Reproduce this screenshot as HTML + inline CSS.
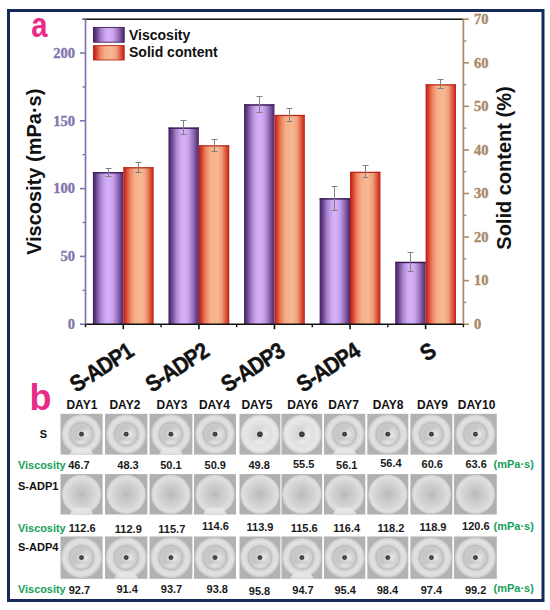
<!DOCTYPE html><html><head><meta charset="utf-8"><style>
html,body{margin:0;padding:0;background:#fff;width:550px;height:610px;overflow:hidden}
svg{position:absolute;left:0;top:0}
text{font-family:"Liberation Sans",sans-serif}
.sf{font-family:"Liberation Serif",serif;font-weight:bold}
</style></head><body>
<svg width="550" height="610" viewBox="0 0 550 610">
<defs>
<linearGradient id="gp" x1="0" x2="1" y1="0" y2="0"><stop offset="0" stop-color="#3f1d5c"/><stop offset="0.1" stop-color="#66408a"/><stop offset="0.25" stop-color="#a783cc"/><stop offset="0.4" stop-color="#cfa8f2"/><stop offset="0.52" stop-color="#d6b0fa"/><stop offset="0.65" stop-color="#c8a2ea"/><stop offset="0.8" stop-color="#9a74bc"/><stop offset="0.92" stop-color="#6a4488"/><stop offset="1" stop-color="#4a2468"/></linearGradient>
<linearGradient id="go" x1="0" x2="1" y1="0" y2="0"><stop offset="0" stop-color="#b51a16"/><stop offset="0.08" stop-color="#d23a28"/><stop offset="0.22" stop-color="#ec8260"/><stop offset="0.38" stop-color="#f4b08a"/><stop offset="0.6" stop-color="#f6b892"/><stop offset="0.75" stop-color="#f0a07c"/><stop offset="0.88" stop-color="#de5a3e"/><stop offset="1" stop-color="#bf1e1a"/></linearGradient>
<radialGradient id="gpd"><stop offset="0" stop-color="#cdcdcd"/><stop offset="0.15" stop-color="#d2d2d2"/><stop offset="0.3" stop-color="#c5c5c5"/><stop offset="0.5" stop-color="#cacaca"/><stop offset="0.58" stop-color="#bfbfbf"/><stop offset="0.66" stop-color="#d9d9d9"/><stop offset="0.8" stop-color="#e2e2e2"/><stop offset="0.9" stop-color="#dadada"/><stop offset="1" stop-color="#bebebe"/></radialGradient>
<radialGradient id="gph"><stop offset="0" stop-color="#bababa"/><stop offset="0.3" stop-color="#c8c8c8"/><stop offset="0.6" stop-color="#d5d3d1"/><stop offset="0.85" stop-color="#e1dfdd"/><stop offset="0.95" stop-color="#d4d4d4"/><stop offset="1" stop-color="#bababa"/></radialGradient>
<radialGradient id="gpb"><stop offset="0" stop-color="#dedede"/><stop offset="0.12" stop-color="#d5d5d5"/><stop offset="0.3" stop-color="#d8d8d8"/><stop offset="0.6" stop-color="#e2e2e2"/><stop offset="0.8" stop-color="#e8e8e8"/><stop offset="0.92" stop-color="#dadada"/><stop offset="1" stop-color="#b6b6b6"/></radialGradient>
<radialGradient id="ghl" cx="0.5" cy="0.5" r="0.5"><stop offset="0" stop-color="#fff" stop-opacity="0.55"/><stop offset="1" stop-color="#fff" stop-opacity="0"/></radialGradient>
</defs>
<rect x="8.5" y="10.5" width="534.5" height="590" fill="none" stroke="#17285a" stroke-width="3"/>
<text transform="translate(31.3,36.5) scale(0.86,1.04)" font-size="34" font-weight="bold" fill="#ea2a88">a</text>
<text x="29.5" y="409.5" font-size="36" font-weight="bold" fill="#ea2a88">b</text>
<rect x="92.89" y="172.1" width="30.4" height="152.10" fill="url(#gp)"/>
<rect x="123.29" y="167.2" width="30.4" height="157.00" fill="url(#go)"/>
<rect x="92.89" y="172.1" width="30.4" height="1.4" fill="#3a1c55"/>
<rect x="123.29" y="167.2" width="30.4" height="1.2" fill="#b8281c"/>
<rect x="168.47" y="127.5" width="30.4" height="196.70" fill="url(#gp)"/>
<rect x="198.87" y="145.3" width="30.4" height="178.90" fill="url(#go)"/>
<rect x="168.47" y="127.5" width="30.4" height="1.4" fill="#3a1c55"/>
<rect x="198.87" y="145.3" width="30.4" height="1.2" fill="#b8281c"/>
<rect x="244.05" y="104.3" width="30.4" height="219.90" fill="url(#gp)"/>
<rect x="274.45" y="114.9" width="30.4" height="209.30" fill="url(#go)"/>
<rect x="244.05" y="104.3" width="30.4" height="1.4" fill="#3a1c55"/>
<rect x="274.45" y="114.9" width="30.4" height="1.2" fill="#b8281c"/>
<rect x="319.63" y="198.2" width="30.4" height="126.00" fill="url(#gp)"/>
<rect x="350.03" y="171.8" width="30.4" height="152.40" fill="url(#go)"/>
<rect x="319.63" y="198.2" width="30.4" height="1.4" fill="#3a1c55"/>
<rect x="350.03" y="171.8" width="30.4" height="1.2" fill="#b8281c"/>
<rect x="395.21" y="261.8" width="30.4" height="62.40" fill="url(#gp)"/>
<rect x="425.61" y="84.3" width="30.4" height="239.90" fill="url(#go)"/>
<rect x="395.21" y="261.8" width="30.4" height="1.4" fill="#3a1c55"/>
<rect x="425.61" y="84.3" width="30.4" height="1.2" fill="#b8281c"/>
<path d="M108.50 168.5V176.5M105.50 168.5H111.50M105.50 176.5H111.50" stroke="#808080" stroke-width="1" fill="none"/>
<path d="M138.50 162.5V172.5M135.50 162.5H141.50M135.50 172.5H141.50" stroke="#808080" stroke-width="1" fill="none"/>
<path d="M183.50 120.5V134.5M180.50 120.5H186.50M180.50 134.5H186.50" stroke="#808080" stroke-width="1" fill="none"/>
<path d="M214.50 139.5V151.5M211.50 139.5H217.50M211.50 151.5H217.50" stroke="#808080" stroke-width="1" fill="none"/>
<path d="M259.50 96.5V112.5M256.50 96.5H262.50M256.50 112.5H262.50" stroke="#808080" stroke-width="1" fill="none"/>
<path d="M289.50 108.5V121.5M286.50 108.5H292.50M286.50 121.5H292.50" stroke="#808080" stroke-width="1" fill="none"/>
<path d="M334.50 186.5V210.5M331.50 186.5H337.50M331.50 210.5H337.50" stroke="#808080" stroke-width="1" fill="none"/>
<path d="M365.50 165.5V177.5M362.50 165.5H368.50M362.50 177.5H368.50" stroke="#808080" stroke-width="1" fill="none"/>
<path d="M410.50 252.5V271.5M407.50 252.5H413.50M407.50 271.5H413.50" stroke="#808080" stroke-width="1" fill="none"/>
<path d="M440.50 79.5V88.5M437.50 79.5H443.50M437.50 88.5H443.50" stroke="#808080" stroke-width="1" fill="none"/>
<path d="M82.5 19.2H463.4" stroke="#111" stroke-width="1.6"/>
<path d="M85.0 324.2H463.9" stroke="#111" stroke-width="1.6"/>
<path d="M85.5 19.2V324.2" stroke="#8275ad" stroke-width="1.7"/>
<path d="M463.4 19.2V324.2" stroke="#a8896a" stroke-width="1.7"/>
<path d="M80.0 324.20H85.5" stroke="#8275ad" stroke-width="1.6"/>
<text class="sf" transform="translate(75,329.00) scale(1,1.04)" font-size="14.5" fill="#8275ad" stroke="#8275ad" stroke-width="0.35" text-anchor="end">0</text>
<path d="M82.5 290.30H85.5" stroke="#8275ad" stroke-width="1.4"/>
<path d="M80.0 256.40H85.5" stroke="#8275ad" stroke-width="1.6"/>
<text class="sf" transform="translate(75,261.20) scale(1,1.04)" font-size="14.5" fill="#8275ad" stroke="#8275ad" stroke-width="0.35" text-anchor="end">50</text>
<path d="M82.5 222.50H85.5" stroke="#8275ad" stroke-width="1.4"/>
<path d="M80.0 188.60H85.5" stroke="#8275ad" stroke-width="1.6"/>
<text class="sf" transform="translate(75,193.40) scale(1,1.04)" font-size="14.5" fill="#8275ad" stroke="#8275ad" stroke-width="0.35" text-anchor="end">100</text>
<path d="M82.5 154.70H85.5" stroke="#8275ad" stroke-width="1.4"/>
<path d="M80.0 120.80H85.5" stroke="#8275ad" stroke-width="1.6"/>
<text class="sf" transform="translate(75,125.60) scale(1,1.04)" font-size="14.5" fill="#8275ad" stroke="#8275ad" stroke-width="0.35" text-anchor="end">150</text>
<path d="M82.5 86.90H85.5" stroke="#8275ad" stroke-width="1.4"/>
<path d="M80.0 53.00H85.5" stroke="#8275ad" stroke-width="1.6"/>
<text class="sf" transform="translate(75,57.80) scale(1,1.04)" font-size="14.5" fill="#8275ad" stroke="#8275ad" stroke-width="0.35" text-anchor="end">200</text>
<path d="M82.5 19.10H85.5" stroke="#8275ad" stroke-width="1.4"/>
<path d="M463.4 324.20H468.9" stroke="#a8896a" stroke-width="1.6"/>
<text class="sf" transform="translate(474,329.00) scale(1,1.04)" font-size="14.5" fill="#a8896a" stroke="#a8896a" stroke-width="0.35">0</text>
<path d="M463.4 302.41H466.4" stroke="#a8896a" stroke-width="1.4"/>
<path d="M463.4 280.63H468.9" stroke="#a8896a" stroke-width="1.6"/>
<text class="sf" transform="translate(474,285.43) scale(1,1.04)" font-size="14.5" fill="#a8896a" stroke="#a8896a" stroke-width="0.35">10</text>
<path d="M463.4 258.84H466.4" stroke="#a8896a" stroke-width="1.4"/>
<path d="M463.4 237.06H468.9" stroke="#a8896a" stroke-width="1.6"/>
<text class="sf" transform="translate(474,241.86) scale(1,1.04)" font-size="14.5" fill="#a8896a" stroke="#a8896a" stroke-width="0.35">20</text>
<path d="M463.4 215.27H466.4" stroke="#a8896a" stroke-width="1.4"/>
<path d="M463.4 193.49H468.9" stroke="#a8896a" stroke-width="1.6"/>
<text class="sf" transform="translate(474,198.29) scale(1,1.04)" font-size="14.5" fill="#a8896a" stroke="#a8896a" stroke-width="0.35">30</text>
<path d="M463.4 171.70H466.4" stroke="#a8896a" stroke-width="1.4"/>
<path d="M463.4 149.91H468.9" stroke="#a8896a" stroke-width="1.6"/>
<text class="sf" transform="translate(474,154.71) scale(1,1.04)" font-size="14.5" fill="#a8896a" stroke="#a8896a" stroke-width="0.35">40</text>
<path d="M463.4 128.13H466.4" stroke="#a8896a" stroke-width="1.4"/>
<path d="M463.4 106.34H468.9" stroke="#a8896a" stroke-width="1.6"/>
<text class="sf" transform="translate(474,111.14) scale(1,1.04)" font-size="14.5" fill="#a8896a" stroke="#a8896a" stroke-width="0.35">50</text>
<path d="M463.4 84.56H466.4" stroke="#a8896a" stroke-width="1.4"/>
<path d="M463.4 62.77H468.9" stroke="#a8896a" stroke-width="1.6"/>
<text class="sf" transform="translate(474,67.57) scale(1,1.04)" font-size="14.5" fill="#a8896a" stroke="#a8896a" stroke-width="0.35">60</text>
<path d="M463.4 40.99H466.4" stroke="#a8896a" stroke-width="1.4"/>
<path d="M463.4 19.20H468.9" stroke="#a8896a" stroke-width="1.6"/>
<text class="sf" transform="translate(474,24.00) scale(1,1.04)" font-size="14.5" fill="#a8896a" stroke="#a8896a" stroke-width="0.35">70</text>
<path d="M85.50 324.2V327.2" stroke="#111" stroke-width="1.4"/>
<path d="M161.08 324.2V327.2" stroke="#111" stroke-width="1.4"/>
<path d="M236.66 324.2V327.2" stroke="#111" stroke-width="1.4"/>
<path d="M312.24 324.2V327.2" stroke="#111" stroke-width="1.4"/>
<path d="M387.82 324.2V327.2" stroke="#111" stroke-width="1.4"/>
<path d="M463.40 324.2V327.2" stroke="#111" stroke-width="1.4"/>
<path d="M123.29 324.2V329.2" stroke="#111" stroke-width="1.6"/>
<path d="M198.87 324.2V329.2" stroke="#111" stroke-width="1.6"/>
<path d="M274.45 324.2V329.2" stroke="#111" stroke-width="1.6"/>
<path d="M350.03 324.2V329.2" stroke="#111" stroke-width="1.6"/>
<path d="M425.61 324.2V329.2" stroke="#111" stroke-width="1.6"/>
<rect x="93.4" y="27.4" width="30.8" height="14.8" fill="url(#gp)" stroke="#3c1d58" stroke-width="0.9"/>
<rect x="93.4" y="45.6" width="30.8" height="14.4" fill="url(#go)" stroke="#b8281c" stroke-width="0.9"/>
<text x="129" y="39.6" font-size="14" font-weight="bold" fill="#111">Viscosity</text>
<text x="129" y="57.4" font-size="14" font-weight="bold" fill="#111">Solid content</text>
<text transform="translate(41,255) rotate(-90)" font-size="20" font-weight="bold" fill="#111">Viscosity (mPa·s)</text>
<text transform="translate(510.5,249.7) rotate(-90)" font-size="20" font-weight="bold" fill="#111">Solid content (%)</text>
<text transform="translate(134.79,355) rotate(-33) scale(1,1.12)" font-size="20.5" letter-spacing="-0.9" font-weight="bold" fill="#111" stroke="#111" stroke-width="0.4" text-anchor="end">S-ADP1</text>
<text transform="translate(210.37,355) rotate(-33) scale(1,1.12)" font-size="20.5" letter-spacing="-0.9" font-weight="bold" fill="#111" stroke="#111" stroke-width="0.4" text-anchor="end">S-ADP2</text>
<text transform="translate(285.95,355) rotate(-33) scale(1,1.12)" font-size="20.5" letter-spacing="-0.9" font-weight="bold" fill="#111" stroke="#111" stroke-width="0.4" text-anchor="end">S-ADP3</text>
<text transform="translate(361.53,355) rotate(-33) scale(1,1.12)" font-size="20.5" letter-spacing="-0.9" font-weight="bold" fill="#111" stroke="#111" stroke-width="0.4" text-anchor="end">S-ADP4</text>
<text transform="translate(437.11,355) rotate(-33) scale(1,1.12)" font-size="20.5" letter-spacing="-0.9" font-weight="bold" fill="#111" stroke="#111" stroke-width="0.4" text-anchor="end">S</text>
<text x="81.9" y="408.6" font-size="12" font-weight="bold" fill="#111" text-anchor="middle">DAY1</text>
<text x="124.9" y="408.6" font-size="12" font-weight="bold" fill="#111" text-anchor="middle">DAY2</text>
<text x="172.0" y="408.6" font-size="12" font-weight="bold" fill="#111" text-anchor="middle">DAY3</text>
<text x="214.4" y="408.6" font-size="12" font-weight="bold" fill="#111" text-anchor="middle">DAY4</text>
<text x="256.9" y="408.6" font-size="12" font-weight="bold" fill="#111" text-anchor="middle">DAY5</text>
<text x="302.6" y="408.6" font-size="12" font-weight="bold" fill="#111" text-anchor="middle">DAY6</text>
<text x="343.6" y="408.6" font-size="12" font-weight="bold" fill="#111" text-anchor="middle">DAY7</text>
<text x="388.1" y="408.6" font-size="12" font-weight="bold" fill="#111" text-anchor="middle">DAY8</text>
<text x="432.4" y="408.6" font-size="12" font-weight="bold" fill="#111" text-anchor="middle">DAY9</text>
<text x="476.6" y="408.6" font-size="12" font-weight="bold" fill="#111" text-anchor="middle">DAY10</text>
<rect x="60.5" y="413.8" width="42.1" height="40.8" fill="#b2b2b2"/>
<circle cx="81.5" cy="434.2" r="20.1" fill="url(#gpd)"/>
<ellipse cx="86.5" cy="434.2" rx="6" ry="9" fill="url(#ghl)"/>
<ellipse cx="81.5" cy="442.2" rx="8" ry="3.5" fill="url(#ghl)"/>
<circle cx="81.5" cy="434.2" r="2.4" fill="#3a3a3a"/>
<circle cx="81.5" cy="434.2" r="0.9" fill="#5a5a5a"/>
<rect x="105.0" y="413.8" width="42.4" height="40.8" fill="#b2b2b2"/>
<circle cx="126.2" cy="434.2" r="20.1" fill="url(#gpd)"/>
<ellipse cx="131.2" cy="434.2" rx="6" ry="9" fill="url(#ghl)"/>
<ellipse cx="126.2" cy="442.2" rx="8" ry="3.5" fill="url(#ghl)"/>
<circle cx="126.2" cy="434.2" r="2.4" fill="#3a3a3a"/>
<circle cx="126.2" cy="434.2" r="0.9" fill="#5a5a5a"/>
<rect x="149.5" y="413.8" width="42.9" height="40.8" fill="#b2b2b2"/>
<circle cx="170.9" cy="434.2" r="20.1" fill="url(#gpd)"/>
<ellipse cx="175.9" cy="434.2" rx="6" ry="9" fill="url(#ghl)"/>
<ellipse cx="170.9" cy="442.2" rx="8" ry="3.5" fill="url(#ghl)"/>
<circle cx="170.9" cy="434.2" r="2.4" fill="#3a3a3a"/>
<circle cx="170.9" cy="434.2" r="0.9" fill="#5a5a5a"/>
<rect x="194.0" y="413.8" width="42.0" height="40.8" fill="#b2b2b2"/>
<circle cx="215.0" cy="434.2" r="20.1" fill="url(#gpd)"/>
<ellipse cx="220.0" cy="434.2" rx="6" ry="9" fill="url(#ghl)"/>
<ellipse cx="215.0" cy="442.2" rx="8" ry="3.5" fill="url(#ghl)"/>
<circle cx="215.0" cy="434.2" r="2.4" fill="#3a3a3a"/>
<circle cx="215.0" cy="434.2" r="0.9" fill="#5a5a5a"/>
<rect x="239.5" y="413.8" width="40.9" height="40.8" fill="#b2b2b2"/>
<circle cx="259.9" cy="434.2" r="20.1" fill="url(#gpb)"/>
<ellipse cx="264.9" cy="434.2" rx="6" ry="9" fill="url(#ghl)"/>
<ellipse cx="259.9" cy="442.2" rx="8" ry="3.5" fill="url(#ghl)"/>
<circle cx="259.9" cy="434.2" r="2.8" fill="#3a3a3a"/>
<circle cx="259.9" cy="434.2" r="0.9" fill="#5a5a5a"/>
<rect x="281.5" y="413.8" width="40.7" height="40.8" fill="#b2b2b2"/>
<circle cx="301.9" cy="434.2" r="20.0" fill="url(#gpb)"/>
<ellipse cx="306.9" cy="434.2" rx="6" ry="9" fill="url(#ghl)"/>
<ellipse cx="301.9" cy="442.2" rx="8" ry="3.5" fill="url(#ghl)"/>
<circle cx="301.9" cy="434.2" r="2.8" fill="#3a3a3a"/>
<circle cx="301.9" cy="434.2" r="0.9" fill="#5a5a5a"/>
<rect x="324.0" y="413.8" width="41.3" height="40.8" fill="#b2b2b2"/>
<circle cx="344.6" cy="434.2" r="20.1" fill="url(#gpd)"/>
<ellipse cx="349.6" cy="434.2" rx="6" ry="9" fill="url(#ghl)"/>
<ellipse cx="344.6" cy="442.2" rx="8" ry="3.5" fill="url(#ghl)"/>
<circle cx="344.6" cy="434.2" r="2.4" fill="#3a3a3a"/>
<circle cx="344.6" cy="434.2" r="0.9" fill="#5a5a5a"/>
<rect x="367.3" y="413.8" width="41.0" height="40.8" fill="#b2b2b2"/>
<circle cx="387.8" cy="434.2" r="20.1" fill="url(#gpd)"/>
<ellipse cx="392.8" cy="434.2" rx="6" ry="9" fill="url(#ghl)"/>
<ellipse cx="387.8" cy="442.2" rx="8" ry="3.5" fill="url(#ghl)"/>
<circle cx="387.8" cy="434.2" r="2.4" fill="#3a3a3a"/>
<circle cx="387.8" cy="434.2" r="0.9" fill="#5a5a5a"/>
<rect x="410.4" y="413.8" width="42.0" height="40.8" fill="#b2b2b2"/>
<circle cx="431.4" cy="434.2" r="20.1" fill="url(#gpd)"/>
<ellipse cx="436.4" cy="434.2" rx="6" ry="9" fill="url(#ghl)"/>
<ellipse cx="431.4" cy="442.2" rx="8" ry="3.5" fill="url(#ghl)"/>
<circle cx="431.4" cy="434.2" r="2.4" fill="#3a3a3a"/>
<circle cx="431.4" cy="434.2" r="0.9" fill="#5a5a5a"/>
<rect x="454.0" y="413.8" width="42.8" height="40.8" fill="#b2b2b2"/>
<circle cx="475.4" cy="434.2" r="20.1" fill="url(#gpd)"/>
<ellipse cx="480.4" cy="434.2" rx="6" ry="9" fill="url(#ghl)"/>
<ellipse cx="475.4" cy="442.2" rx="8" ry="3.5" fill="url(#ghl)"/>
<circle cx="475.4" cy="434.2" r="2.4" fill="#3a3a3a"/>
<circle cx="475.4" cy="434.2" r="0.9" fill="#5a5a5a"/>
<rect x="60.5" y="474.1" width="42.1" height="40.4" fill="#b0b0b0"/>
<circle cx="81.5" cy="494.3" r="19.9" fill="url(#gph)"/>
<rect x="105.0" y="474.1" width="42.4" height="40.4" fill="#b0b0b0"/>
<circle cx="126.2" cy="494.3" r="19.9" fill="url(#gph)"/>
<rect x="149.5" y="474.1" width="42.9" height="40.4" fill="#b0b0b0"/>
<circle cx="170.9" cy="494.3" r="19.9" fill="url(#gph)"/>
<rect x="194.0" y="474.1" width="42.0" height="40.4" fill="#b0b0b0"/>
<circle cx="215.0" cy="494.3" r="19.9" fill="url(#gph)"/>
<rect x="239.5" y="474.1" width="40.9" height="40.4" fill="#b0b0b0"/>
<circle cx="259.9" cy="494.3" r="19.9" fill="url(#gph)"/>
<rect x="281.5" y="474.1" width="40.7" height="40.4" fill="#b0b0b0"/>
<circle cx="301.9" cy="494.3" r="19.9" fill="url(#gph)"/>
<rect x="324.0" y="474.1" width="41.3" height="40.4" fill="#b0b0b0"/>
<circle cx="344.6" cy="494.3" r="19.9" fill="url(#gph)"/>
<rect x="367.3" y="474.1" width="41.0" height="40.4" fill="#b0b0b0"/>
<circle cx="387.8" cy="494.3" r="19.9" fill="url(#gph)"/>
<rect x="410.4" y="474.1" width="42.0" height="40.4" fill="#b0b0b0"/>
<circle cx="431.4" cy="494.3" r="19.9" fill="url(#gph)"/>
<rect x="454.0" y="474.1" width="42.8" height="40.4" fill="#b0b0b0"/>
<circle cx="475.4" cy="494.3" r="19.9" fill="url(#gph)"/>
<rect x="60.5" y="536.5" width="42.1" height="42.3" fill="#b2b2b2"/>
<circle cx="81.5" cy="557.6" r="20.7" fill="url(#gpd)"/>
<ellipse cx="86.5" cy="557.6" rx="6" ry="9" fill="url(#ghl)"/>
<ellipse cx="81.5" cy="565.6" rx="8" ry="3.5" fill="url(#ghl)"/>
<circle cx="81.5" cy="557.6" r="2.4" fill="#3a3a3a"/>
<circle cx="81.5" cy="557.6" r="0.9" fill="#5a5a5a"/>
<rect x="105.0" y="536.5" width="42.4" height="42.3" fill="#b2b2b2"/>
<circle cx="126.2" cy="557.6" r="20.8" fill="url(#gpd)"/>
<ellipse cx="131.2" cy="557.6" rx="6" ry="9" fill="url(#ghl)"/>
<ellipse cx="126.2" cy="565.6" rx="8" ry="3.5" fill="url(#ghl)"/>
<circle cx="126.2" cy="557.6" r="2.4" fill="#3a3a3a"/>
<circle cx="126.2" cy="557.6" r="0.9" fill="#5a5a5a"/>
<rect x="149.5" y="536.5" width="42.9" height="42.3" fill="#b2b2b2"/>
<circle cx="170.9" cy="557.6" r="20.8" fill="url(#gpd)"/>
<ellipse cx="175.9" cy="557.6" rx="6" ry="9" fill="url(#ghl)"/>
<ellipse cx="170.9" cy="565.6" rx="8" ry="3.5" fill="url(#ghl)"/>
<circle cx="170.9" cy="557.6" r="2.4" fill="#3a3a3a"/>
<circle cx="170.9" cy="557.6" r="0.9" fill="#5a5a5a"/>
<rect x="194.0" y="536.5" width="42.0" height="42.3" fill="#b2b2b2"/>
<circle cx="215.0" cy="557.6" r="20.7" fill="url(#gpd)"/>
<ellipse cx="220.0" cy="557.6" rx="6" ry="9" fill="url(#ghl)"/>
<ellipse cx="215.0" cy="565.6" rx="8" ry="3.5" fill="url(#ghl)"/>
<circle cx="215.0" cy="557.6" r="2.4" fill="#3a3a3a"/>
<circle cx="215.0" cy="557.6" r="0.9" fill="#5a5a5a"/>
<rect x="239.5" y="536.5" width="40.9" height="42.3" fill="#b2b2b2"/>
<circle cx="259.9" cy="557.6" r="20.1" fill="url(#gpd)"/>
<ellipse cx="264.9" cy="557.6" rx="6" ry="9" fill="url(#ghl)"/>
<ellipse cx="259.9" cy="565.6" rx="8" ry="3.5" fill="url(#ghl)"/>
<circle cx="259.9" cy="557.6" r="2.4" fill="#3a3a3a"/>
<circle cx="259.9" cy="557.6" r="0.9" fill="#5a5a5a"/>
<rect x="281.5" y="536.5" width="40.7" height="42.3" fill="#b2b2b2"/>
<circle cx="301.9" cy="557.6" r="20.0" fill="url(#gpd)"/>
<ellipse cx="306.9" cy="557.6" rx="6" ry="9" fill="url(#ghl)"/>
<ellipse cx="301.9" cy="565.6" rx="8" ry="3.5" fill="url(#ghl)"/>
<circle cx="301.9" cy="557.6" r="2.4" fill="#3a3a3a"/>
<circle cx="301.9" cy="557.6" r="0.9" fill="#5a5a5a"/>
<rect x="324.0" y="536.5" width="41.3" height="42.3" fill="#b2b2b2"/>
<circle cx="344.6" cy="557.6" r="20.4" fill="url(#gpd)"/>
<ellipse cx="349.6" cy="557.6" rx="6" ry="9" fill="url(#ghl)"/>
<ellipse cx="344.6" cy="565.6" rx="8" ry="3.5" fill="url(#ghl)"/>
<circle cx="344.6" cy="557.6" r="2.4" fill="#3a3a3a"/>
<circle cx="344.6" cy="557.6" r="0.9" fill="#5a5a5a"/>
<rect x="367.3" y="536.5" width="41.0" height="42.3" fill="#b2b2b2"/>
<circle cx="387.8" cy="557.6" r="20.2" fill="url(#gpd)"/>
<ellipse cx="392.8" cy="557.6" rx="6" ry="9" fill="url(#ghl)"/>
<ellipse cx="387.8" cy="565.6" rx="8" ry="3.5" fill="url(#ghl)"/>
<circle cx="387.8" cy="557.6" r="2.4" fill="#3a3a3a"/>
<circle cx="387.8" cy="557.6" r="0.9" fill="#5a5a5a"/>
<rect x="410.4" y="536.5" width="42.0" height="42.3" fill="#b2b2b2"/>
<circle cx="431.4" cy="557.6" r="20.7" fill="url(#gpd)"/>
<ellipse cx="436.4" cy="557.6" rx="6" ry="9" fill="url(#ghl)"/>
<ellipse cx="431.4" cy="565.6" rx="8" ry="3.5" fill="url(#ghl)"/>
<circle cx="431.4" cy="557.6" r="2.4" fill="#3a3a3a"/>
<circle cx="431.4" cy="557.6" r="0.9" fill="#5a5a5a"/>
<rect x="454.0" y="536.5" width="42.8" height="42.3" fill="#b2b2b2"/>
<circle cx="475.4" cy="557.6" r="20.8" fill="url(#gpd)"/>
<ellipse cx="480.4" cy="557.6" rx="6" ry="9" fill="url(#ghl)"/>
<ellipse cx="475.4" cy="565.6" rx="8" ry="3.5" fill="url(#ghl)"/>
<circle cx="475.4" cy="557.6" r="2.4" fill="#3a3a3a"/>
<circle cx="475.4" cy="557.6" r="0.9" fill="#5a5a5a"/>
<path d="M73.5 448.1L89.5 448.1L93.5 454.6L69.5 454.6Z" fill="#e6e6e6" opacity="0.85"/>
<path d="M162.9 448.1L178.9 448.1L182.9 454.6L158.9 454.6Z" fill="#e6e6e6" opacity="0.85"/>
<path d="M336.6 448.1L352.6 448.1L356.6 454.6L332.6 454.6Z" fill="#e6e6e6" opacity="0.85"/>
<path d="M73.5 508.0L89.5 508.0L93.5 514.5L69.5 514.5Z" fill="#e6e6e6" opacity="0.85"/>
<path d="M207.0 508.0L223.0 508.0L227.0 514.5L203.0 514.5Z" fill="#e6e6e6" opacity="0.85"/>
<path d="M336.6 508.0L352.6 508.0L356.6 514.5L332.6 514.5Z" fill="#e6e6e6" opacity="0.85"/>
<path d="M118.2 572.3L134.2 572.3L138.2 578.8L114.2 578.8Z" fill="#e6e6e6" opacity="0.85"/>
<path d="M293.9 572.3L309.9 572.3L313.9 578.8L289.9 578.8Z" fill="#e6e6e6" opacity="0.85"/>
<text x="39.8" y="438.2" font-size="11" font-weight="bold" fill="#111">S</text>
<text x="18" y="490.4" font-size="11" font-weight="bold" fill="#111">S-ADP1</text>
<text x="18" y="551.3" font-size="11" font-weight="bold" fill="#111">S-ADP4</text>
<text x="18" y="468.5" font-size="10.9" font-weight="bold" fill="#17a05a">Viscosity</text>
<text x="78.9" y="468.5" font-size="11" font-weight="bold" fill="#1a1a1a" text-anchor="middle">46.7</text>
<text x="128" y="468.5" font-size="11" font-weight="bold" fill="#1a1a1a" text-anchor="middle">48.3</text>
<text x="170.9" y="468.5" font-size="11" font-weight="bold" fill="#1a1a1a" text-anchor="middle">50.1</text>
<text x="215.3" y="468.5" font-size="11" font-weight="bold" fill="#1a1a1a" text-anchor="middle">50.9</text>
<text x="259.2" y="468.5" font-size="11" font-weight="bold" fill="#1a1a1a" text-anchor="middle">49.8</text>
<text x="303.7" y="467.8" font-size="11" font-weight="bold" fill="#1a1a1a" text-anchor="middle">55.5</text>
<text x="346.8" y="468.9" font-size="11" font-weight="bold" fill="#1a1a1a" text-anchor="middle">56.1</text>
<text x="390.9" y="467.2" font-size="11" font-weight="bold" fill="#1a1a1a" text-anchor="middle">56.4</text>
<text x="432.3" y="467.5" font-size="11" font-weight="bold" fill="#1a1a1a" text-anchor="middle">60.6</text>
<text x="476.1" y="467.8" font-size="11" font-weight="bold" fill="#1a1a1a" text-anchor="middle">63.6</text>
<text x="493.5" y="467.8" font-size="11" font-weight="bold" fill="#17a05a">(mPa·s)</text>
<text x="18" y="531.5" font-size="10.9" font-weight="bold" fill="#17a05a">Viscosity</text>
<text x="82.2" y="531.8" font-size="11" font-weight="bold" fill="#1a1a1a" text-anchor="middle">112.6</text>
<text x="128.3" y="532.9" font-size="11" font-weight="bold" fill="#1a1a1a" text-anchor="middle">112.9</text>
<text x="171.8" y="532.9" font-size="11" font-weight="bold" fill="#1a1a1a" text-anchor="middle">115.7</text>
<text x="215.4" y="530.3" font-size="11" font-weight="bold" fill="#1a1a1a" text-anchor="middle">114.6</text>
<text x="260" y="531" font-size="11" font-weight="bold" fill="#1a1a1a" text-anchor="middle">113.9</text>
<text x="304.2" y="532" font-size="11" font-weight="bold" fill="#1a1a1a" text-anchor="middle">115.6</text>
<text x="346.7" y="531.8" font-size="11" font-weight="bold" fill="#1a1a1a" text-anchor="middle">116.4</text>
<text x="390.9" y="531.8" font-size="11" font-weight="bold" fill="#1a1a1a" text-anchor="middle">118.2</text>
<text x="433" y="531.3" font-size="11" font-weight="bold" fill="#1a1a1a" text-anchor="middle">118.9</text>
<text x="475.8" y="530.2" font-size="11" font-weight="bold" fill="#1a1a1a" text-anchor="middle">120.6</text>
<text x="493.5" y="530.2" font-size="11" font-weight="bold" fill="#17a05a">(mPa·s)</text>
<text x="18" y="592.7" font-size="10.9" font-weight="bold" fill="#17a05a">Viscosity</text>
<text x="79.4" y="593.5" font-size="11" font-weight="bold" fill="#1a1a1a" text-anchor="middle">92.7</text>
<text x="127.1" y="593.3" font-size="11" font-weight="bold" fill="#1a1a1a" text-anchor="middle">91.4</text>
<text x="171.5" y="593.3" font-size="11" font-weight="bold" fill="#1a1a1a" text-anchor="middle">93.7</text>
<text x="217.3" y="593.3" font-size="11" font-weight="bold" fill="#1a1a1a" text-anchor="middle">93.8</text>
<text x="259.5" y="595" font-size="11" font-weight="bold" fill="#1a1a1a" text-anchor="middle">95.8</text>
<text x="303" y="594" font-size="11" font-weight="bold" fill="#1a1a1a" text-anchor="middle">94.7</text>
<text x="345.2" y="593.5" font-size="11" font-weight="bold" fill="#1a1a1a" text-anchor="middle">95.4</text>
<text x="387.4" y="593.5" font-size="11" font-weight="bold" fill="#1a1a1a" text-anchor="middle">98.4</text>
<text x="431.4" y="593.5" font-size="11" font-weight="bold" fill="#1a1a1a" text-anchor="middle">97.4</text>
<text x="475.6" y="593.5" font-size="11" font-weight="bold" fill="#1a1a1a" text-anchor="middle">99.2</text>
<text x="493.5" y="592.2" font-size="11" font-weight="bold" fill="#17a05a">(mPa·s)</text>
</svg>
</body></html>
